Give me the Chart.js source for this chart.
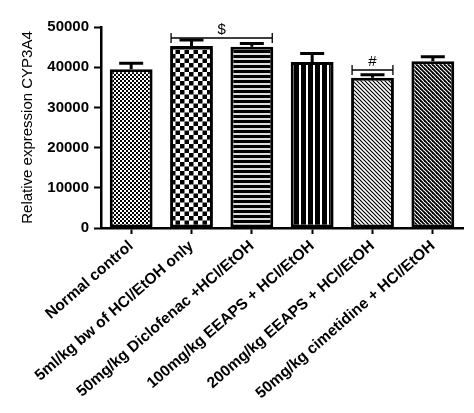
<!DOCTYPE html>
<html>
<head>
<meta charset="utf-8">
<title>CYP3A4</title>
<script src="https://cdn.jsdelivr.net/npm/chart.js@4.4.1/dist/chart.umd.min.js"></script>
<style>
  html, body { margin: 0; padding: 0; background: #fff; }
  #wrap { width: 474px; height: 413px; }
</style>
</head>
<body>
<div id="wrap"><canvas id="cyp" width="474" height="413"></canvas></div>
<script>
const categories = [
  'Normal control',
  '5ml/kg bw of HCl/EtOH only',
  '50mg/kg Diclofenac +HCl/EtOH',
  '100mg/kg EEAPS + HCl/EtOH',
  '200mg/kg EEAPS + HCl/EtOH',
  '50mg/kg cimetidine + HCl/EtOH'
];
const values = [39500, 45300, 45100, 41300, 37400, 41500];
const errors = [1500, 1450, 800, 2100, 700, 1100];
const yTicks = [0, 10000, 20000, 30000, 40000, 50000];
const brackets = [
  { from: 1, to: 2, value: 47260, label: '$' },
  { from: 4, to: 4, value: 39300, label: '#' }
];
const fills = ['fineChecker', 'checker', 'hStripes', 'vLines', 'diag', 'diagDense'];

function makePattern(kind) {
  const c = document.createElement('canvas');
  const g = c.getContext('2d');
  if (kind === 'fineChecker') {
    c.width = 4; c.height = 4;
    g.fillStyle = '#fff'; g.fillRect(0, 0, 4, 4);
    g.fillStyle = '#000'; g.fillRect(0, 0, 2, 2); g.fillRect(2, 2, 2, 2);
  } else if (kind === 'checker') {
    c.width = 9; c.height = 9;
    g.fillStyle = '#fff'; g.fillRect(0, 0, 9, 9);
    g.fillStyle = '#000'; g.fillRect(0, 0, 4.5, 4.5); g.fillRect(4.5, 4.5, 4.5, 4.5);
  } else if (kind === 'hStripes') {
    c.width = 5; c.height = 5;
    g.fillStyle = '#000'; g.fillRect(0, 0, 5, 5);
    g.fillStyle = '#ddd'; g.fillRect(0, 3, 5, 2);
  } else if (kind === 'vLines') {
    c.width = 7; c.height = 7;
    g.fillStyle = '#000'; g.fillRect(0, 0, 7, 7);
    g.fillStyle = '#fff'; g.fillRect(5, 0, 2, 7);
  } else {
    const n = 4;
    c.width = n; c.height = n;
    g.fillStyle = '#fff'; g.fillRect(0, 0, n, n);
    g.strokeStyle = '#000';
    g.lineWidth = kind === 'diag' ? 1.15 : 1.8;
    for (let k = -1; k <= 1; k++) {
      g.beginPath();
      g.moveTo(k * n - 1, -1);
      g.lineTo(k * n + n + 1, n + 1);
      g.stroke();
    }
  }
  return g.createPattern(c, 'repeat');
}

const errorBars = {
  id: 'errorBars',
  afterDatasetsDraw(chart) {
    const ctx = chart.ctx;
    const yScale = chart.scales.y;
    const meta = chart.getDatasetMeta(0);
    ctx.save();
    ctx.strokeStyle = '#000';
    ctx.lineWidth = 3;
    meta.data.forEach((bar, i) => {
      const top = yScale.getPixelForValue(values[i] + errors[i]);
      ctx.beginPath();
      ctx.moveTo(bar.x, bar.y);
      ctx.lineTo(bar.x, top);
      ctx.moveTo(bar.x - 12, top);
      ctx.lineTo(bar.x + 12, top);
      ctx.stroke();
    });
    ctx.restore();
  }
};

const sigBrackets = {
  id: 'sigBrackets',
  afterDatasetsDraw(chart) {
    const ctx = chart.ctx;
    const yScale = chart.scales.y;
    const meta = chart.getDatasetMeta(0);
    ctx.save();
    ctx.strokeStyle = '#000';
    ctx.fillStyle = '#000';
    ctx.lineWidth = 1.3;
    ctx.textAlign = 'center';
    ctx.textBaseline = 'bottom';
    ctx.font = '15px "Liberation Sans", Arial, sans-serif';
    brackets.forEach((b) => {
      const a = meta.data[b.from];
      const z = meta.data[b.to];
      const x1 = a.x - a.width / 2 + 1;
      const x2 = z.x + z.width / 2 - 1;
      const y = yScale.getPixelForValue(b.value);
      ctx.beginPath();
      ctx.moveTo(x1, y); ctx.lineTo(x2, y);
      ctx.moveTo(x1, y - 5); ctx.lineTo(x1, y + 5);
      ctx.moveTo(x2, y - 5); ctx.lineTo(x2, y + 5);
      ctx.stroke();
      ctx.fillText(b.label, (x1 + x2) / 2, y - 1);
    });
    ctx.restore();
  }
};

Chart.defaults.font.family = '"Liberation Sans", Arial, sans-serif';
Chart.defaults.color = '#000';

new Chart(document.getElementById('cyp'), {
  type: 'bar',
  data: {
    labels: categories,
    datasets: [{
      data: values,
      backgroundColor: fills.map(makePattern),
      borderColor: '#000',
      borderWidth: 3,
      borderSkipped: false,
      barPercentage: 0.71,
      categoryPercentage: 1
    }]
  },
  options: {
    responsive: false,
    animation: false,
    layout: { padding: { left: 0, top: 27, right: 11, bottom: 0 } },
    plugins: {
      legend: { display: false },
      tooltip: { enabled: false }
    },
    scales: {
      x: {
        grid: { display: true, drawOnChartArea: false, offset: false, tickLength: 6, tickWidth: 2, color: '#000' },
        border: { color: '#000', width: 2.5 },
        ticks: {
          minRotation: 41,
          maxRotation: 41,
          padding: 3,
          font: { size: 15.5, weight: 'bold' },
          color: '#000'
        },
        afterFit(scale) { scale.height = 185; }
      },
      y: {
        min: 0,
        max: 50000,
        afterBuildTicks(scale) { scale.ticks = yTicks.map((v) => ({ value: v })); },
        grid: { display: true, drawOnChartArea: false, tickLength: 7, tickWidth: 2, color: '#000' },
        border: { color: '#000', width: 2.5 },
        ticks: {
          padding: 5,
          font: { size: 15, weight: 'bold' },
          color: '#000',
          callback: (v) => String(v)
        },
        title: {
          display: true,
          text: 'Relative expression CYP3A4',
          font: { size: 15 },
          color: '#000',
          padding: { top: 19, bottom: 0 }
        },
        afterFit(scale) { scale.width = 101; }
      }
    }
  },
  plugins: [errorBars, sigBrackets]
});
</script>
</body>
</html>
